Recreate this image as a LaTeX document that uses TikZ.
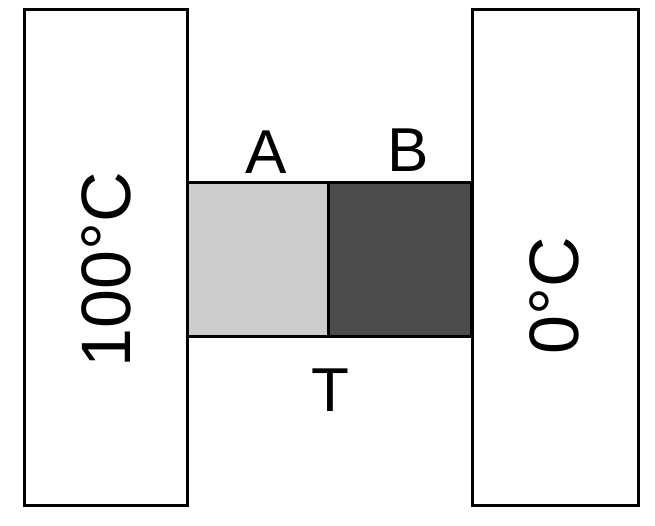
\documentclass[tikz,border=0pt]{standalone}
\usepackage{fontspec}
\setmainfont{Liberation Sans}
\begin{document}
\begin{tikzpicture}[x=1pt,y=1pt,line width=3pt,
  big/.style={font=\fontsize{70}{70}\selectfont,rotate=90,inner sep=0},
  lab/.style={font=\fontsize{62}{62}\selectfont,inner sep=0}]
\useasboundingbox (0,0) rectangle (655,525);
\draw[fill=white] (24,20) rectangle (187,515);
\draw[fill=white] (472,20) rectangle (638,515);
\draw[fill=black!20] (187,189) rectangle (328,342);
\draw[fill=black!70] (328,189) rectangle (471,342);
\node[big] (h) at (106,255) {100°C};
\node[big] (c) at (554,229) {0°C};
\node[lab] (a) at (266,373) {A};
\node[lab] (b) at (408,375) {B};
\node[lab] (t) at (330,135) {T};
\end{tikzpicture}
\end{document}
